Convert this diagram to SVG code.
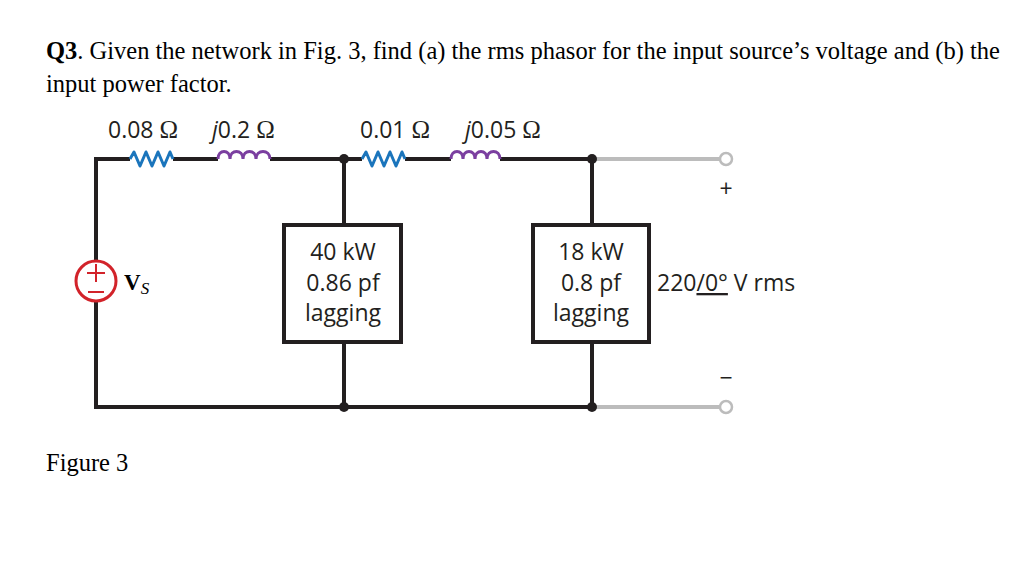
<svg xmlns="http://www.w3.org/2000/svg" width="1024" height="565" viewBox="0 0 1024 565">
<style>
.w{stroke:#231f20;stroke-width:4;fill:none}
.g{stroke:#bcbcbc;stroke-width:4;fill:none}
.r{stroke:#1b75bc;stroke-width:3;fill:none;stroke-linejoin:round}
.l{stroke:#7b3fa0;stroke-width:3;fill:none}
.s{font-family:"Open Sans","Liberation Sans",sans-serif;font-size:23px;fill:#231f20}
.o{font-family:"Liberation Serif",serif;font-size:25px}
.t{font-family:"Liberation Serif",serif;font-size:24.5px;fill:#000}
</style>
<rect width="1024" height="565" fill="#fff"/>
<text class="t" x="46" y="59"><tspan font-weight="bold">Q3</tspan>. Given the network in Fig. 3, find (a) the rms phasor for the input source’s voltage and (b) the</text>
<text class="t" x="46" y="92">input power factor.</text>
<text class="t" x="46" y="471">Figure 3</text>
<g id="connectors">
<path class="w" d="M96 261V159H130M173 159H218M270 159H362M405 159H451M500 159H592V225M344 159V225M344 342V407M592 342V407M96 301V407H592"/>
<path class="g" d="M592 159H720M592 407H720"/>
</g>
<g id="r1"><path class="r" d="M130 159l4 -7 6 14 6 -14 6 14 6 -14 6 14 6 -14 3 7"/><text class="s" x="108" y="138">0.08 <tspan class="o">Ω</tspan></text></g>
<g id="l1"><path class="l" d="M218 159c0-10 12-10 12 0c0-10 13-10 13 0c0-10 13-10 13 0c0-10 14-10 14 0"/><text class="s" x="212" y="138"><tspan font-style="italic">j</tspan>0.2 <tspan class="o">Ω</tspan></text></g>
<g id="r2"><path class="r" d="M362 159l4 -7 6 14 6 -14 6 14 6 -14 6 14 6 -14 3 7"/><text class="s" x="360" y="138">0.01 <tspan class="o">Ω</tspan></text></g>
<g id="l2"><path class="l" d="M451 159c0-10 12-10 12 0c0-10 12-10 12 0c0-10 12-10 12 0c0-10 13-10 13 0"/><text class="s" x="465" y="138"><tspan font-style="italic">j</tspan>0.05 <tspan class="o">Ω</tspan></text></g>
<g id="n1"><circle cx="344" cy="159" r="5" fill="#231f20"/><circle cx="344" cy="407" r="5" fill="#231f20"/></g>
<g id="n2"><circle cx="592" cy="159" r="5" fill="#231f20"/><circle cx="592" cy="407" r="5" fill="#231f20"/></g>
<g id="vs"><circle cx="96" cy="281" r="20" fill="#fff" stroke="#d2232a" stroke-width="3"/>
<path d="M87 273H105M96 264V282M88 292H104" stroke="#d2232a" stroke-width="2"/>
<text x="124" y="290" font-family="Liberation Serif" font-size="23" font-weight="bold">V<tspan font-size="17" font-style="italic" font-weight="normal" dy="4">S</tspan></text></g>
<g id="load1"><rect x="284" y="225" width="117" height="117" fill="#fff" stroke="#231f20" stroke-width="4"/>
<text class="s" text-anchor="middle"><tspan x="343" y="260">40 kW</tspan><tspan x="343" y="291">0.86 pf</tspan><tspan x="343" y="321">lagging</tspan></text></g>
<g id="load2"><rect x="533" y="225" width="116" height="117" fill="#fff" stroke="#231f20" stroke-width="4"/>
<text class="s" text-anchor="middle"><tspan x="591" y="260">18 kW</tspan><tspan x="591" y="291">0.8 pf</tspan><tspan x="591" y="321">lagging</tspan></text></g>
<g id="terminals"><circle cx="726" cy="159" r="6" fill="#fff" stroke="#bcbcbc" stroke-width="2.5"/><circle cx="726" cy="407" r="6" fill="#fff" stroke="#bcbcbc" stroke-width="2.5"/>
<text class="s" x="726" y="197" text-anchor="middle">+</text><text class="s" x="726" y="386" text-anchor="middle">−</text>
<text class="s" x="657" y="291">220<tspan text-decoration="underline">/0°</tspan> V rms</text></g>
</svg>
